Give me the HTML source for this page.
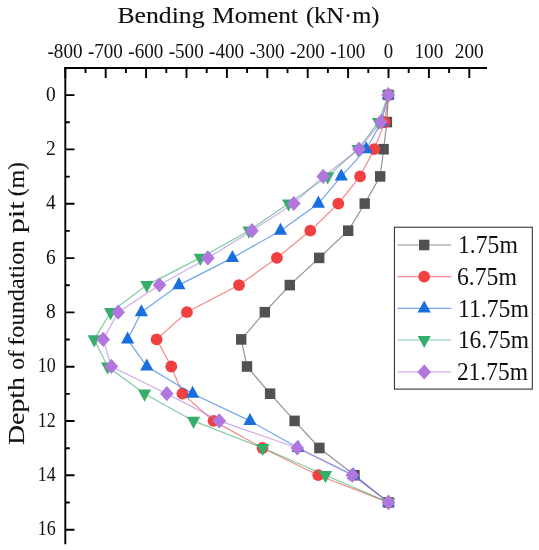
<!DOCTYPE html>
<html><head><meta charset="utf-8"><title>Bending Moment</title>
<style>html,body{margin:0;padding:0;background:#fff}svg{display:block}text{font-family:"Liberation Serif",serif;fill:#111}</style></head>
<body>
<svg width="539" height="550" viewBox="0 0 539 550">
<rect width="539" height="550" fill="#fff"/>
<text y="23" font-size="22.5" stroke="#111" stroke-width="0.12"><tspan x="117.4" textLength="87.2" lengthAdjust="spacingAndGlyphs">Bending</tspan> <tspan x="212.3" textLength="85.6" lengthAdjust="spacingAndGlyphs">Moment</tspan> <tspan x="305.9" textLength="73.6" lengthAdjust="spacingAndGlyphs">(kN·m)</tspan></text>
<text transform="translate(24.4 445) rotate(-90)" font-size="22.5" stroke="#111" stroke-width="0.12"><tspan x="0.0" textLength="68.0" lengthAdjust="spacingAndGlyphs">Depth</tspan> <tspan x="75.3" textLength="19.6" lengthAdjust="spacingAndGlyphs">of</tspan> <tspan x="99.3" textLength="105.1" lengthAdjust="spacingAndGlyphs">foundation</tspan> <tspan x="211.7" textLength="32.0" lengthAdjust="spacingAndGlyphs">pit</tspan> <tspan x="248.8" textLength="34.1" lengthAdjust="spacingAndGlyphs">(m)</tspan></text>
<g stroke="#000" stroke-width="1.9" fill="none" stroke-linecap="butt">
<path d="M64.3 68H487"/>
<path d="M65.3 67V544.2"/>
<path d="M65.3 68V78M85.5 68V73M105.7 68V78M125.9 68V73M146.1 68V78M166.3 68V73M186.5 68V78M206.7 68V73M226.9 68V78M247.1 68V73M267.3 68V78M287.5 68V73M307.7 68V78M327.9 68V73M348.1 68V78M368.3 68V73M388.5 68V78M408.7 68V73M428.9 68V78M449.1 68V73M469.3 68V78M65.3 95.1H74.5M65.3 122.3H69.8M65.3 149.4H74.5M65.3 176.6H69.8M65.3 203.7H74.5M65.3 230.9H69.8M65.3 258.1H74.5M65.3 285.2H69.8M65.3 312.4H74.5M65.3 339.5H69.8M65.3 366.7H74.5M65.3 393.9H69.8M65.3 421.0H74.5M65.3 448.2H69.8M65.3 475.3H74.5M65.3 502.5H69.8M65.3 529.7H74.5"/>
</g>
<g font-size="20.3" text-anchor="middle">
<text x="65.0" y="57.8" textLength="35.0" lengthAdjust="spacingAndGlyphs">-800</text>
<text x="105.4" y="57.8" textLength="35.0" lengthAdjust="spacingAndGlyphs">-700</text>
<text x="145.8" y="57.8" textLength="35.0" lengthAdjust="spacingAndGlyphs">-600</text>
<text x="186.2" y="57.8" textLength="35.0" lengthAdjust="spacingAndGlyphs">-500</text>
<text x="226.6" y="57.8" textLength="35.0" lengthAdjust="spacingAndGlyphs">-400</text>
<text x="267.0" y="57.8" textLength="35.0" lengthAdjust="spacingAndGlyphs">-300</text>
<text x="307.4" y="57.8" textLength="35.0" lengthAdjust="spacingAndGlyphs">-200</text>
<text x="347.8" y="57.8" textLength="35.0" lengthAdjust="spacingAndGlyphs">-100</text>
<text x="388.5" y="57.8" textLength="9.4" lengthAdjust="spacingAndGlyphs">0</text>
<text x="428.9" y="57.8" textLength="28.9" lengthAdjust="spacingAndGlyphs">100</text>
<text x="469.3" y="57.8" textLength="28.9" lengthAdjust="spacingAndGlyphs">200</text>
</g>
<g font-size="21.5" text-anchor="end">
<text x="55.7" y="100.7" textLength="9.7" lengthAdjust="spacingAndGlyphs">0</text>
<text x="55.7" y="155.0" textLength="9.7" lengthAdjust="spacingAndGlyphs">2</text>
<text x="55.7" y="209.3" textLength="9.7" lengthAdjust="spacingAndGlyphs">4</text>
<text x="55.7" y="263.7" textLength="9.7" lengthAdjust="spacingAndGlyphs">6</text>
<text x="55.7" y="318.0" textLength="9.7" lengthAdjust="spacingAndGlyphs">8</text>
<text x="55.7" y="372.3" textLength="18.0" lengthAdjust="spacingAndGlyphs">10</text>
<text x="55.7" y="426.6" textLength="18.0" lengthAdjust="spacingAndGlyphs">12</text>
<text x="55.7" y="480.9" textLength="18.0" lengthAdjust="spacingAndGlyphs">14</text>
<text x="55.7" y="535.3" textLength="18.0" lengthAdjust="spacingAndGlyphs">16</text>
</g>
<g><polyline points="388.3,94.9 386.9,122.1 383.6,149.2 380.2,176.4 364.7,203.6 348.2,230.7 319.2,257.9 289.8,285.1 264.8,312.2 241.2,339.4 247.0,366.5 270.1,393.7 294.6,420.9 319.4,448.0 354.5,475.2 388.5,502.4" fill="none" stroke="#515151" stroke-width="1.2" stroke-opacity="0.62"/>
<rect x="383.1" y="89.6" width="10.4" height="10.6" fill="#515151"/>
<rect x="381.7" y="116.8" width="10.4" height="10.6" fill="#515151"/>
<rect x="378.4" y="143.9" width="10.4" height="10.6" fill="#515151"/>
<rect x="375.0" y="171.1" width="10.4" height="10.6" fill="#515151"/>
<rect x="359.5" y="198.3" width="10.4" height="10.6" fill="#515151"/>
<rect x="343.0" y="225.4" width="10.4" height="10.6" fill="#515151"/>
<rect x="314.0" y="252.6" width="10.4" height="10.6" fill="#515151"/>
<rect x="284.6" y="279.8" width="10.4" height="10.6" fill="#515151"/>
<rect x="259.6" y="306.9" width="10.4" height="10.6" fill="#515151"/>
<rect x="236.0" y="334.1" width="10.4" height="10.6" fill="#515151"/>
<rect x="241.8" y="361.2" width="10.4" height="10.6" fill="#515151"/>
<rect x="264.9" y="388.4" width="10.4" height="10.6" fill="#515151"/>
<rect x="289.4" y="415.6" width="10.4" height="10.6" fill="#515151"/>
<rect x="314.2" y="442.7" width="10.4" height="10.6" fill="#515151"/>
<rect x="349.3" y="469.9" width="10.4" height="10.6" fill="#515151"/>
<rect x="383.3" y="497.1" width="10.4" height="10.6" fill="#515151"/>
</g>
<g><polyline points="388.3,94.9 384.7,122.1 374.2,149.2 360.1,176.4 338.3,203.6 310.3,230.7 276.9,257.9 239.0,285.1 186.9,312.2 156.6,339.4 171.3,366.5 182.4,393.7 213.5,420.9 262.5,448.0 318.3,475.2 388.5,502.4" fill="none" stroke="#F14040" stroke-width="1.2" stroke-opacity="0.62"/>
<circle cx="388.3" cy="94.9" r="5.9" fill="#F14040"/>
<circle cx="384.7" cy="122.1" r="5.9" fill="#F14040"/>
<circle cx="374.2" cy="149.2" r="5.9" fill="#F14040"/>
<circle cx="360.1" cy="176.4" r="5.9" fill="#F14040"/>
<circle cx="338.3" cy="203.6" r="5.9" fill="#F14040"/>
<circle cx="310.3" cy="230.7" r="5.9" fill="#F14040"/>
<circle cx="276.9" cy="257.9" r="5.9" fill="#F14040"/>
<circle cx="239.0" cy="285.1" r="5.9" fill="#F14040"/>
<circle cx="186.9" cy="312.2" r="5.9" fill="#F14040"/>
<circle cx="156.6" cy="339.4" r="5.9" fill="#F14040"/>
<circle cx="171.3" cy="366.5" r="5.9" fill="#F14040"/>
<circle cx="182.4" cy="393.7" r="5.9" fill="#F14040"/>
<circle cx="213.5" cy="420.9" r="5.9" fill="#F14040"/>
<circle cx="262.5" cy="448.0" r="5.9" fill="#F14040"/>
<circle cx="318.3" cy="475.2" r="5.9" fill="#F14040"/>
<circle cx="388.5" cy="502.4" r="5.9" fill="#F14040"/>
</g>
<g><polyline points="388.3,94.9 381.5,122.1 366.2,149.2 341.3,176.4 318.4,203.6 280.5,230.7 232.4,257.9 178.9,285.1 141.4,312.2 127.6,339.4 146.8,366.5 192.6,393.7 250.0,420.9 298.2,448.0 353.5,475.2 388.5,502.4" fill="none" stroke="#1A6FDF" stroke-width="1.2" stroke-opacity="0.62"/>
<path d="M388.3 86.9L394.9 99.0H381.7Z" fill="#1A6FDF"/>
<path d="M381.5 114.1L388.1 126.2H374.9Z" fill="#1A6FDF"/>
<path d="M366.2 141.2L372.8 153.3H359.6Z" fill="#1A6FDF"/>
<path d="M341.3 168.4L347.9 180.5H334.7Z" fill="#1A6FDF"/>
<path d="M318.4 195.6L325.0 207.7H311.8Z" fill="#1A6FDF"/>
<path d="M280.5 222.7L287.1 234.8H273.9Z" fill="#1A6FDF"/>
<path d="M232.4 249.9L239.0 262.0H225.8Z" fill="#1A6FDF"/>
<path d="M178.9 277.1L185.5 289.2H172.3Z" fill="#1A6FDF"/>
<path d="M141.4 304.2L148.0 316.3H134.8Z" fill="#1A6FDF"/>
<path d="M127.6 331.4L134.2 343.5H121.0Z" fill="#1A6FDF"/>
<path d="M146.8 358.5L153.4 370.6H140.2Z" fill="#1A6FDF"/>
<path d="M192.6 385.7L199.2 397.8H186.0Z" fill="#1A6FDF"/>
<path d="M250.0 412.9L256.6 425.0H243.4Z" fill="#1A6FDF"/>
<path d="M298.2 440.0L304.8 452.1H291.6Z" fill="#1A6FDF"/>
<path d="M353.5 467.2L360.1 479.3H346.9Z" fill="#1A6FDF"/>
<path d="M388.5 494.4L395.1 506.5H381.9Z" fill="#1A6FDF"/>
</g>
<g><polyline points="388.3,94.9 378.5,122.1 358.0,149.2 327.7,176.4 288.6,203.6 249.0,230.7 200.3,257.9 146.8,285.1 110.6,312.2 94.2,339.4 107.6,366.5 144.5,393.7 193.5,420.9 262.8,448.0 325.5,475.2 388.5,502.4" fill="none" stroke="#37AD6B" stroke-width="1.2" stroke-opacity="0.62"/>
<path d="M388.3 102.9L394.9 90.8H381.7Z" fill="#37AD6B"/>
<path d="M378.5 130.1L385.1 118.0H371.9Z" fill="#37AD6B"/>
<path d="M358.0 157.2L364.6 145.1H351.4Z" fill="#37AD6B"/>
<path d="M327.7 184.4L334.3 172.3H321.1Z" fill="#37AD6B"/>
<path d="M288.6 211.6L295.2 199.5H282.0Z" fill="#37AD6B"/>
<path d="M249.0 238.7L255.6 226.6H242.4Z" fill="#37AD6B"/>
<path d="M200.3 265.9L206.9 253.8H193.7Z" fill="#37AD6B"/>
<path d="M146.8 293.1L153.4 281.0H140.2Z" fill="#37AD6B"/>
<path d="M110.6 320.2L117.2 308.1H104.0Z" fill="#37AD6B"/>
<path d="M94.2 347.4L100.8 335.3H87.6Z" fill="#37AD6B"/>
<path d="M107.6 374.5L114.2 362.4H101.0Z" fill="#37AD6B"/>
<path d="M144.5 401.7L151.1 389.6H137.9Z" fill="#37AD6B"/>
<path d="M193.5 428.9L200.1 416.8H186.9Z" fill="#37AD6B"/>
<path d="M262.8 456.0L269.4 443.9H256.2Z" fill="#37AD6B"/>
<path d="M325.5 483.2L332.1 471.1H318.9Z" fill="#37AD6B"/>
<path d="M388.5 510.4L395.1 498.3H381.9Z" fill="#37AD6B"/>
</g>
<g><polyline points="388.3,94.9 380.7,122.1 359.0,149.2 323.2,176.4 293.8,203.6 252.0,230.7 207.9,257.9 159.5,285.1 118.2,312.2 103.2,339.4 111.4,366.5 166.8,393.7 219.3,420.9 297.3,448.0 352.4,475.2 388.5,502.4" fill="none" stroke="#B177DE" stroke-width="1.2" stroke-opacity="0.62"/>
<path d="M388.3 87.2L395.1 94.9L388.3 102.4L381.5 94.9Z" fill="#B177DE"/>
<path d="M380.7 114.4L387.5 122.1L380.7 129.6L373.9 122.1Z" fill="#B177DE"/>
<path d="M359.0 141.5L365.8 149.2L359.0 156.7L352.2 149.2Z" fill="#B177DE"/>
<path d="M323.2 168.7L330.0 176.4L323.2 183.9L316.4 176.4Z" fill="#B177DE"/>
<path d="M293.8 195.9L300.6 203.6L293.8 211.1L287.0 203.6Z" fill="#B177DE"/>
<path d="M252.0 223.0L258.8 230.7L252.0 238.2L245.2 230.7Z" fill="#B177DE"/>
<path d="M207.9 250.2L214.7 257.9L207.9 265.4L201.1 257.9Z" fill="#B177DE"/>
<path d="M159.5 277.4L166.3 285.1L159.5 292.6L152.7 285.1Z" fill="#B177DE"/>
<path d="M118.2 304.5L125.0 312.2L118.2 319.7L111.4 312.2Z" fill="#B177DE"/>
<path d="M103.2 331.7L110.0 339.4L103.2 346.9L96.4 339.4Z" fill="#B177DE"/>
<path d="M111.4 358.8L118.2 366.5L111.4 374.0L104.6 366.5Z" fill="#B177DE"/>
<path d="M166.8 386.0L173.6 393.7L166.8 401.2L160.0 393.7Z" fill="#B177DE"/>
<path d="M219.3 413.2L226.1 420.9L219.3 428.4L212.5 420.9Z" fill="#B177DE"/>
<path d="M297.3 440.3L304.1 448.0L297.3 455.5L290.5 448.0Z" fill="#B177DE"/>
<path d="M352.4 467.5L359.2 475.2L352.4 482.7L345.6 475.2Z" fill="#B177DE"/>
<path d="M388.5 494.7L395.3 502.4L388.5 509.9L381.7 502.4Z" fill="#B177DE"/>
</g>
<rect x="394.4" y="227.2" width="137.9" height="161.9" fill="#fff" stroke="#222" stroke-width="1"/>
<path d="M397.4 245.0H451.2" stroke="#515151" stroke-width="1.2" stroke-opacity="0.62"/>
<rect x="419.0" y="239.7" width="10.4" height="10.6" fill="#515151"/>
<text x="457.9" y="253.1" font-size="25.5" textLength="60.0" lengthAdjust="spacingAndGlyphs">1.75m</text>
<path d="M397.4 276.6H451.2" stroke="#F14040" stroke-width="1.2" stroke-opacity="0.62"/>
<circle cx="424.2" cy="276.6" r="5.9" fill="#F14040"/>
<text x="456.9" y="284.7" font-size="25.5" textLength="60.0" lengthAdjust="spacingAndGlyphs">6.75m</text>
<path d="M397.4 308.4H451.2" stroke="#1A6FDF" stroke-width="1.2" stroke-opacity="0.62"/>
<path d="M424.2 300.4L430.8 312.5H417.6Z" fill="#1A6FDF"/>
<text x="457.9" y="316.5" font-size="25.5" textLength="71.0" lengthAdjust="spacingAndGlyphs">11.75m</text>
<path d="M397.4 340.0H451.2" stroke="#37AD6B" stroke-width="1.2" stroke-opacity="0.62"/>
<path d="M424.2 348.0L430.8 335.9H417.6Z" fill="#37AD6B"/>
<text x="457.9" y="348.1" font-size="25.5" textLength="71.0" lengthAdjust="spacingAndGlyphs">16.75m</text>
<path d="M397.4 371.9H451.2" stroke="#B177DE" stroke-width="1.2" stroke-opacity="0.62"/>
<path d="M424.2 364.2L431.0 371.9L424.2 379.4L417.4 371.9Z" fill="#B177DE"/>
<text x="456.9" y="380.0" font-size="25.5" textLength="71.0" lengthAdjust="spacingAndGlyphs">21.75m</text>
</svg>
</body></html>
